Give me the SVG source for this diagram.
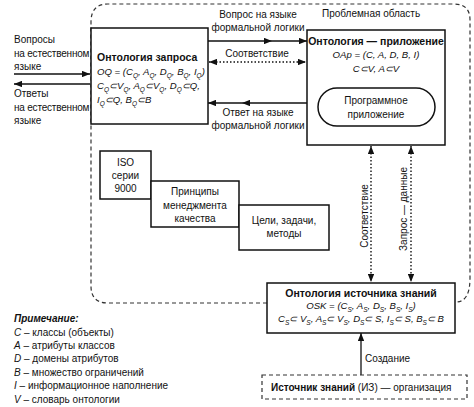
<svg xmlns="http://www.w3.org/2000/svg" width="474" height="407" viewBox="0 0 474 407">
<style>
text{font-family:"Liberation Sans",Arial,sans-serif;font-size:10px;fill:#111}
.b{font-weight:bold;font-size:10.5px}
.i{font-style:italic}
.f{font-style:italic;font-size:9.6px}
.c{text-anchor:middle}
.s{font-size:6.5px;baseline-shift:-2.5px}
.box{fill:#fff;stroke:#111;stroke-width:1.5}
.ln{fill:none;stroke:#111;stroke-width:1.3}
.dot{fill:none;stroke:#111;stroke-width:1.4;stroke-dasharray:1.5,2}
.dash{fill:none;stroke:#333;stroke-width:1.2;stroke-dasharray:4,3}
</style>
<defs>
<marker id="ah" viewBox="0 0 10 8" refX="10" refY="4" markerWidth="8" markerHeight="6.4" markerUnits="userSpaceOnUse" orient="auto-start-reverse">
<path d="M0,0 L10,4 L0,8 Z" fill="#111"/>
</marker>
</defs>

<g id="region">
<path class="dash" d="M267,303 H108 Q91,303 91,286 V22 Q91,4 108,4 H454 Q470,4 470,20 V278 Q470,302 456,302"/>
<text x="322" y="17">Проблемная область</text>
</g>

<g id="connectors">
<path class="ln" d="M14,74 H90" marker-end="url(#ah)"/>
<path class="ln" d="M90,84 H14" marker-end="url(#ah)"/>
<path class="ln" d="M208,41 L272,41 L307,41" marker-mid="url(#ah)" marker-end="url(#ah)"/>
<path class="dot" d="M209,62 L306,62" marker-start="url(#ah)" marker-end="url(#ah)"/>
<path class="ln" d="M307,103 L242,103 L208,103" marker-mid="url(#ah)" marker-end="url(#ah)"/>
<path class="dot" d="M371,146 V282" marker-start="url(#ah)" marker-end="url(#ah)"/>
<path class="dot" d="M411,146 V282" marker-start="url(#ah)" marker-end="url(#ah)"/>
<path class="ln" d="M361,375 V333" marker-end="url(#ah)"/>
<text x="14" y="43">Вопросы</text>
<text x="14" y="57" letter-spacing="-0.2">на естественном</text>
<text x="14" y="70">языке</text>
<text x="14" y="97">Ответы</text>
<text x="14" y="111" letter-spacing="-0.2">на естественном</text>
<text x="14" y="124">языке</text>
<text class="c" x="258" y="18">Вопрос на языке</text>
<text class="c" x="258" y="31">формальной логики</text>
<text class="c" x="257" y="57">Соответствие</text>
<text class="c" x="258" y="116">Ответ на языке</text>
<text class="c" x="258" y="129">формальной логики</text>
<text class="c" transform="translate(368,216) rotate(-90)">Соответствие</text>
<text class="c" transform="translate(407,209) rotate(-90)">Запрос — данные</text>
<text x="365" y="362">Создание</text>
</g>

<g id="oq">
<rect class="box" x="91" y="28" width="117" height="96"/>
<text class="b" x="97" y="61">Онтология запроса</text>
<text class="f" x="97" y="75">OQ = (C<tspan class="s">Q</tspan>, A<tspan class="s">Q</tspan>, D<tspan class="s">Q</tspan>, B<tspan class="s">Q</tspan>, I<tspan class="s">Q</tspan>)</text>
<text class="f" x="97" y="89">C<tspan class="s">Q</tspan>⊂V<tspan class="s">Q</tspan>, A<tspan class="s">Q</tspan>⊂V<tspan class="s">Q</tspan>, D<tspan class="s">Q</tspan>⊂Q,</text>
<text class="f" x="97" y="103">I<tspan class="s">Q</tspan>⊂Q, B<tspan class="s">Q</tspan>⊂B</text>
</g>

<g id="oap">
<rect class="box" x="307" y="30" width="138" height="115"/>
<text class="b c" x="376" y="45">Онтология  — приложение</text>
<text class="f c" x="376" y="58">OAp = (C, A, D, B, I)</text>
<text class="f c" x="376" y="72">C⊂V, A⊂V</text>
</g>

<g id="app">
<rect class="box" x="318" y="88" width="117" height="38" rx="19" stroke-width="1.3"/>
<text class="c" x="376" y="104">Программное</text>
<text class="c" x="376" y="118">приложение</text>
</g>

<g id="iso">
<rect class="box" x="100" y="151" width="51" height="48"/>
<text class="c" x="125.5" y="166">ISO</text>
<text class="c" x="125.5" y="179">серии</text>
<text class="c" x="125.5" y="192">9000</text>
</g>

<g id="principles">
<rect class="box" x="151" y="181" width="88" height="46"/>
<text class="c" x="195" y="195">Принципы</text>
<text class="c" x="195" y="209">менеджмента</text>
<text class="c" x="195" y="222">качества</text>
</g>

<g id="goals">
<rect class="box" x="239" y="205" width="90" height="45"/>
<text class="c" x="284" y="224">Цели, задачи,</text>
<text class="c" x="284" y="237">методы</text>
</g>

<g id="osk">
<rect class="box" x="267" y="283" width="188" height="50"/>
<text class="b c" x="361" y="297">Онтология источника знаний</text>
<text class="f c" x="361" y="309">OSK = (C<tspan class="s">S</tspan>, A<tspan class="s">S</tspan>, D<tspan class="s">S</tspan>, B<tspan class="s">S</tspan>, I<tspan class="s">S</tspan>)</text>
<text class="f c" x="361" y="322">C<tspan class="s">S</tspan>⊂ V<tspan class="s">S</tspan>, A<tspan class="s">S</tspan>⊂ V<tspan class="s">S</tspan>, D<tspan class="s">S</tspan>⊂ S, I<tspan class="s">S</tspan>⊂ S, B<tspan class="s">S</tspan>⊂ B</text>
</g>

<g id="source">
<rect x="262" y="375" width="205" height="24" fill="#fff" stroke="#333" stroke-width="1.2" stroke-dasharray="4,3"/>
<text x="271" y="391"><tspan font-weight="bold">Источник знаний</tspan> (ИЗ) — организация</text>
</g>

<g id="note">
<text x="14" y="322" font-weight="bold" font-style="italic">Примечание:</text>
<text x="14" y="336"><tspan class="i">C</tspan> – классы (объекты)</text>
<text x="14" y="349"><tspan class="i">A</tspan> – атрибуты классов</text>
<text x="14" y="362"><tspan class="i">D</tspan> – домены атрибутов</text>
<text x="14" y="376"><tspan class="i">B</tspan> – множество ограничений</text>
<text x="14" y="389"><tspan class="i">I</tspan> – информационное наполнение</text>
<text x="14" y="403"><tspan class="i">V</tspan> – словарь онтологии</text>
</g>
</svg>
